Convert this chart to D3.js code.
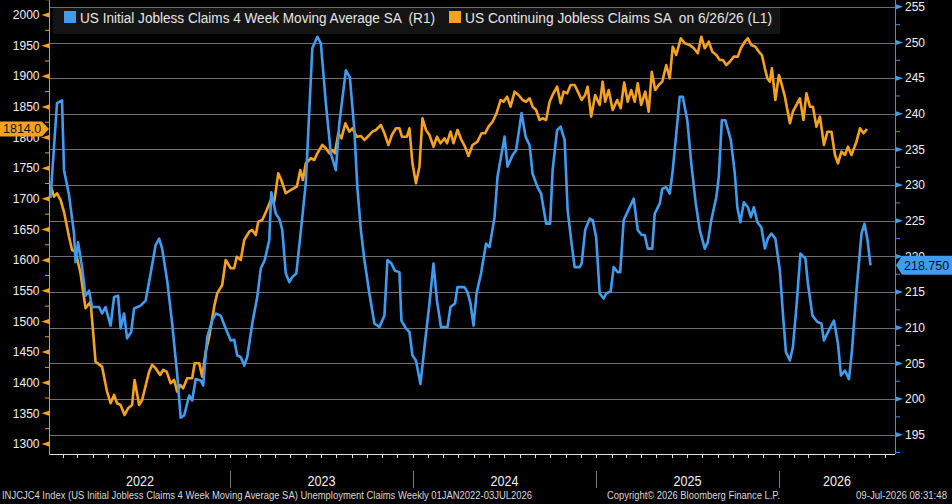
<!DOCTYPE html>
<html>
<head>
<meta charset="utf-8">
<script src="https://cdn.jsdelivr.net/npm/d3@7"></script>
<style>
  html, body { margin: 0; padding: 0; background: #000; }
  svg { display: block; font-family: "Liberation Sans", Arial, sans-serif; }
</style>
</head>
<body>
<div id="chart"></div>
<script>
// days counted from 2022-01-01
const initDays = [6,19,29,33,43,53,56,61,69,76, 83,89,103,109,116,126,133,141,146,153,
  159,167,173,186,196,206,216,223,229,239, 249,259,266,273,283,289,296,306,311,319,
  329,336,346,356,366,373,379,386,393,399, 409,419,426,434,443,447,456,463,469,476,
  483,489,497,509,516,529,539,546,556,566, 576,583,596,604,613,619,626,633,643,653,
  663,673,679,687,694,703,707,716,723,729, 736,745,753,763,771,778,786,799,805,814,
  819,833,839,845,851,857,866,876,883,893, 899,913,919,929,936,947,955,963,969,979,
  986,996,1004,1009,1018,1025,1033,1039,1046,1053, 1063,1067,1074,1083,1089,1096,1103,1111,1116,1125,
  1131,1139,1144,1151,1163,1171,1179,1187,1193,1199, 1208,1213,1223,1228,1236,1243,1249,1256,1263,1269,
  1278,1286,1295,1303,1313,1319,1326,1336,1341,1347, 1354,1365,1373,1378,1384,1391,1399,1405,1411,1418,
  1426,1433,1439,1446,1454,1463,1469,1475,1483,1489, 1496,1504,1514,1519,1528,1538,1546,1551,1559,1571,
  1579,1585,1593,1601,1607,1616,1626,1632,1638,1644];
const initValues = [228.2,241.5,241.9,232.1,228.6,223.2,219.2,222.0,218.5,214.5,
  215.2,212.9,212.9,212.0,212.9,210.3,214.3,214.5,209.9,212.0,
  208.5,209.4,212.7,213.1,213.8,217.6,221.6,222.5,221.1,216.6,
  210.6,203.5,197.4,197.7,200.5,199.8,202.8,202.6,201.9,208.7,
  211.0,212.0,211.7,209.9,208.2,208.3,206.1,205.9,204.7,205.9,
  210.6,214.3,218.3,219.5,222.3,229.0,226.0,225.3,223.7,217.6,
  216.4,217.1,217.6,225.5,230.3,249.2,250.8,249.9,241.5,234.4,
  232.1,238.7,246.1,245.1,237.7,229.6,223.7,219.5,214.8,210.6,
  210.1,211.7,219.5,219.0,218.0,217.8,211.0,209.9,209.4,206.1,
  205.4,202.1,207.3,213.4,219.0,213.8,210.1,210.1,212.9,213.4,
  215.7,215.7,215.0,213.4,210.3,214.8,217.6,221.8,221.3,225.5,
  231.2,236.8,232.6,234.2,234.9,240.1,236.8,235.6,231.6,229.7,
  228.8,224.6,224.6,232.1,237.7,238.2,236.3,226.5,222.3,218.5,
  218.5,219.0,223.7,225.3,225.1,222.7,214.8,214.1,214.8,215.1,
  218.5,217.8,217.8,225.1,226.9,228.1,223.7,223.0,223.0,221.1,
  221.1,226.0,227.4,229.5,229.7,228.8,232.1,237.2,242.4,242.4,
  239.1,233.0,227.4,223.7,221.1,222.0,225.1,228.3,231.2,239.1,
  239.1,236.3,231.6,226.9,224.8,227.6,226.9,225.5,226.9,224.8,
  224.1,221.1,222.5,223.2,222.5,218.0,212.0,206.6,205.4,207.3,
  212.9,220.4,219.7,216.2,211.7,210.8,210.6,208.2,209.4,211.0,
  207.8,203.3,204.0,202.8,206.8,215.2,223.2,224.6,222.3,218.75];

const contDays = [6,13,19,26,33,43,49,56,66,76, 86,96,109,119,126,133,139,146,154,161,
  169,174,183,189,203,209,216,225,231,238, 246,253,259,265,271,279,289,294,303,309,
  316,323,333,339,349,356,366,373,378,386, 393,403,409,416,421,429,438,446,453,461,
  467,476,486,498,505,510,516,526,533,539, 549,556,563,569,574,581,587,595,603,609,
  618,626,633,643,649,656,666,673,681,688, 696,703,708,718,723,729,736,743,749,756,
  763,771,778,785,793,798,805,811,819,827, 834,841,849,859,867,874,881,889,897,905,
  911,918,925,933,941,949,956,963,969,976, 983,989,996,1003,1009,1018,1025,1031,1038,1045,
  1053,1061,1067,1074,1079,1086,1094,1103,1109,1114, 1121,1129,1138,1145,1152,1159,1166,1173,1179,1186,
  1194,1201,1207,1214,1221,1228,1236,1243,1249,1256, 1265,1273,1283,1291,1299,1306,1313,1321,1328,1336,
  1343,1349,1356,1363,1371,1379,1385,1393,1399,1406, 1414,1421,1427,1433,1438,1443,1447,1454,1461,1466,
  1473,1483,1489,1496,1503,1510,1516,1523,1529,1536, 1543,1551,1558,1566,1573,1579,1586,1593,1599,1606,
  1616,1623,1630,1637];
const contValues = [1722.6,1703.5,1709.1,1698.2,1678.6,1638.3,1616.6,1613.8,1578.6,1521.5,
  1532.2,1434.3,1426.2,1385.4,1366.5,1380.0,1366.5,1363.7,1347.4,1358.3,
  1363.7,1404.5,1363.7,1371.8,1418.0,1428.9,1423.6,1412.6,1420.8,1418.0,
  1399.1,1404.5,1385.4,1396.3,1390.9,1407.2,1407.2,1431.7,1431.7,1409.9,
  1450.6,1475.1,1524.1,1545.9,1559.5,1600.3,1586.7,1586.7,1605.6,1600.3,
  1632.9,1646.4,1649.2,1641.0,1662.7,1665.5,1681.8,1698.2,1695.4,1741.7,
  1730.8,1709.1,1714.5,1719.9,1747.1,1730.8,1758.0,1766.2,1763.4,1774.4,
  1787.9,1782.5,1774.4,1779.7,1774.4,1807.0,1798.8,1823.3,1809.6,1815.1,
  1801.4,1802.6,1796.0,1804.2,1809.6,1812.4,1820.5,1807.0,1787.9,1804.2,
  1815.1,1815.1,1801.4,1801.4,1815.1,1758.0,1725.4,1752.5,1831.5,1812.4,
  1804.2,1785.1,1801.4,1790.7,1798.8,1790.7,1809.6,1790.7,1812.4,1796.0,
  1785.1,1770.0,1787.9,1793.3,1807.0,1807.0,1817.8,1825.9,1839.6,1861.3,
  1858.5,1866.7,1850.4,1874.9,1869.5,1861.3,1858.5,1864.1,1850.4,1845.0,
  1828.7,1831.5,1828.7,1858.5,1869.5,1883.0,1855.9,1874.9,1872.2,1885.8,
  1885.8,1872.2,1861.3,1869.5,1883.0,1834.1,1869.5,1853.2,1891.2,1858.5,
  1877.6,1845.0,1861.3,1847.8,1889.9,1858.5,1877.6,1858.5,1888.6,1853.2,
  1874.9,1842.2,1907.5,1877.6,1885.8,1891.2,1918.4,1896.7,1948.3,1934.7,
  1962.0,1953.8,1951.1,1945.7,1937.5,1964.6,1945.7,1956.4,1940.1,1934.7,
  1926.6,1926.6,1918.4,1923.8,1932.0,1932.0,1945.7,1956.4,1962.0,1951.1,
  1948.3,1940.1,1934.7,1913.0,1896.7,1891.2,1913.0,1861.3,1902.1,1888.6,
  1866.7,1823.3,1842.2,1853.2,1864.1,1828.7,1872.2,1850.4,1850.4,1817.8,
  1834.1,1787.9,1809.6,1809.6,1771.6,1758.0,1777.0,1771.6,1785.1,1771.6,
  1793.3,1815.1,1807.0,1814.0];

const leftTicks = d3.range(1300, 2001, 50);
const rightTicks = d3.range(195, 256, 5);
const years = [2022, 2023, 2024, 2025, 2026];
const legendItems = [
    { label: "US Initial Jobless Claims 4 Week Moving Average SA  (R1)", color: "#3f9cf0" },
    { label: "US Continuing Jobless Claims SA  on 6/26/26 (L1)", color: "#f6a21e" },
];
const footerLeft = "INJCJC4 Index (US Initial Jobless Claims 4 Week Moving Average SA) Unemployment Claims Weekly 01JAN2022-03JUL2026";
const footerMid = "Copyright\u00A9 2026 Bloomberg Finance L.P.";
const footerRight = "09-Jul-2026 08:31:48";

const width = 952, height = 504;
const plot = { left: 50, right: 895, top: 0, bottom: 454 };
const blue = legendItems[0].color, orange = legendItems[1].color;
const start = new Date(2022, 0, 1);

const initData = initDays.map((d, i) => ({ date: d3.timeDay.offset(start, d), value: initValues[i] }));
const contData = contDays.map((d, i) => ({ date: d3.timeDay.offset(start, d), value: contValues[i] }));

const x = d3.scaleTime()
    .domain([start, new Date(2026, 6, 3)])
    .range([47.5, 870.5]);
const yL = d3.scaleLinear().domain([1300, 2000]).range([444, 15]);
const yR = d3.scaleLinear().domain([195, 250]).range([434.7, 42.5]);

const svg = d3.select("#chart").append("svg")
    .attr("width", width)
    .attr("height", height);

svg.append("rect").attr("width", width).attr("height", height).attr("fill", "#000");

// horizontal grid follows right axis
svg.append("g")
    .selectAll("line")
    .data(rightTicks)
    .join("line")
    .attr("x1", plot.left).attr("x2", plot.right)
    .attr("y1", d => Math.round(yR(d)) + 0.5)
    .attr("y2", d => Math.round(yR(d)) + 0.5)
    .attr("stroke", "#707070")
    .attr("stroke-width", 1);

svg.append("clipPath").attr("id", "clip")
    .append("rect")
    .attr("x", plot.left).attr("y", plot.top)
    .attr("width", plot.right - plot.left).attr("height", plot.bottom - plot.top);

const lineL = d3.line().x(d => x(d.date)).y(d => yL(d.value));
const lineR = d3.line().x(d => x(d.date)).y(d => yR(d.value));

const lines = svg.append("g").attr("clip-path", "url(#clip)");
lines.append("path")
    .datum(contData)
    .attr("d", lineL)
    .attr("fill", "none")
    .attr("stroke", orange)
    .attr("stroke-width", 2.6)
    .attr("stroke-linejoin", "round");
lines.append("path")
    .datum(initData)
    .attr("d", lineR)
    .attr("fill", "none")
    .attr("stroke", blue)
    .attr("stroke-width", 2.6)
    .attr("stroke-linejoin", "round");

// legend box
const legend = svg.append("g");
legend.append("rect")
    .attr("x", 53).attr("y", 8).attr("width", 727).attr("height", 26)
    .attr("fill", "#141414");
const legendPos = [{ sq: 64, tx: 80, len: 355 }, { sq: 449, tx: 465, len: 307 }];
legendItems.forEach((item, i) => {
    legend.append("rect")
        .attr("x", legendPos[i].sq).attr("y", 11)
        .attr("width", 12).attr("height", 12)
        .attr("fill", item.color);
    legend.append("text")
        .attr("x", legendPos[i].tx).attr("y", 22.5)
        .attr("fill", "#e6e6e6")
        .attr("font-size", 14)
        .attr("textLength", legendPos[i].len)
        .attr("lengthAdjust", "spacingAndGlyphs")
        .style("white-space", "pre")
        .text(item.label);
});

// left axis (L1)
const gL = svg.append("g");
gL.append("line")
    .attr("x1", 49.5).attr("x2", 49.5).attr("y1", 0).attr("y2", plot.bottom)
    .attr("stroke", "#e8962a").attr("stroke-width", 1);
gL.selectAll(".minor")
    .data(d3.range(1300, 2026, 25).filter(v => v % 50 != 0))
    .join("line")
    .attr("x1", 45).attr("x2", 49)
    .attr("y1", d => yL(d)).attr("y2", d => yL(d))
    .attr("stroke", "#e8962a");
gL.selectAll(".tri")
    .data(leftTicks)
    .join("path")
    .attr("d", d => `M49,${yL(d) - 2.5}L49,${yL(d) + 2.5}L41.5,${yL(d)}Z`)
    .attr("fill", orange);
gL.selectAll("text")
    .data(leftTicks)
    .join("text")
    .attr("x", 39.5).attr("y", d => yL(d))
    .attr("dy", "0.35em")
    .attr("text-anchor", "end")
    .attr("fill", "#f0f0f0")
    .attr("font-size", 12)
    .text(d => d);

// right axis (R1)
const gR = svg.append("g");
gR.append("line")
    .attr("x1", 895.5).attr("x2", 895.5).attr("y1", 0).attr("y2", plot.bottom)
    .attr("stroke", "#4a8fd6").attr("stroke-width", 1);
gR.selectAll(".minor")
    .data(d3.range(192.5, 256, 5))
    .join("line")
    .attr("x1", 896).attr("x2", 900)
    .attr("y1", d => yR(d)).attr("y2", d => yR(d))
    .attr("stroke", "#4a8fd6");
gR.selectAll(".tri")
    .data(rightTicks)
    .join("path")
    .attr("d", d => `M896,${yR(d) - 2.5}L896,${yR(d) + 2.5}L903,${yR(d)}Z`)
    .attr("fill", blue);
gR.selectAll("text")
    .data(rightTicks)
    .join("text")
    .attr("x", 905).attr("y", d => yR(d))
    .attr("dy", "0.35em")
    .attr("fill", "#f0f0f0")
    .attr("font-size", 12)
    .text(d => d);

// last value tags (they sit over the 1800 / 220 labels, as in the original)
const lastCont = contData[contData.length - 1];
const lastInit = initData[initData.length - 1];
const yo = yL(lastCont.value), yb = yR(lastInit.value);
svg.append("path")
    .attr("d", `M0,${yo - 7.5}L42,${yo - 7.5}L49,${yo}L42,${yo + 7.5}L0,${yo + 7.5}Z`)
    .attr("fill", orange);
svg.append("text")
    .attr("x", 3).attr("y", yo).attr("dy", "0.36em")
    .attr("fill", "#1a1000").attr("font-size", 12.5)
    .text(d3.format(".1f")(lastCont.value));
svg.append("path")
    .attr("d", `M896,${yb}L902,${yb - 9.5}L952,${yb - 9.5}L952,${yb + 9.5}L902,${yb + 9.5}Z`)
    .attr("fill", blue);
svg.append("text")
    .attr("x", 904).attr("y", yb).attr("dy", "0.36em")
    .attr("fill", "#06121f").attr("font-size", 12.5)
    .text(d3.format(".3f")(lastInit.value));

// bottom axis
const gx = svg.append("g");
gx.append("line")
    .attr("x1", plot.left - 0.5).attr("x2", plot.right)
    .attr("y1", plot.bottom + 0.5).attr("y2", plot.bottom + 0.5)
    .attr("stroke", "#e0e0e0");
gx.selectAll(".tick")
    .data(d3.timeMonth.range(new Date(2022, 1, 1), new Date(2026, 9, 1))
        .filter(d => x(d) > plot.left + 2 && x(d) < plot.right - 2))
    .join("line")
    .attr("x1", d => Math.round(x(d)) + 0.5).attr("x2", d => Math.round(x(d)) + 0.5)
    .attr("y1", plot.bottom).attr("y2", plot.bottom + 4)
    .attr("stroke", "#e0e0e0");
gx.selectAll(".sep")
    .data(years.slice(1))
    .join("line")
    .attr("x1", d => Math.round(x(new Date(d, 0, 1))) + 0.5)
    .attr("x2", d => Math.round(x(new Date(d, 0, 1))) + 0.5)
    .attr("y1", 471).attr("y2", 488)
    .attr("stroke", "#7a7a7a");
gx.selectAll("text")
    .data(years)
    .join("text")
    .attr("x", d => {
        const a = Math.max(plot.left, x(new Date(d, 0, 1)));
        const b = Math.min(plot.right, x(new Date(d + 1, 0, 1)));
        return (a + b) / 2;
    })
    .attr("y", 486)
    .attr("text-anchor", "middle")
    .attr("fill", "#f0f0f0")
    .attr("font-size", 14)
    .attr("textLength", 28)
    .attr("lengthAdjust", "spacingAndGlyphs")
    .text(d => d);

// footer
const footer = [
    { text: footerLeft, x: 2, len: 530 },
    { text: footerMid, x: 607, len: 173 },
    { text: footerRight, x: 856, len: 91 },
];
svg.append("g")
    .selectAll("text")
    .data(footer)
    .join("text")
    .attr("x", d => d.x).attr("y", 499)
    .attr("fill", "#d8d8d8")
    .attr("font-size", 10)
    .attr("textLength", d => d.len)
    .attr("lengthAdjust", "spacingAndGlyphs")
    .text(d => d.text);
</script>
</body>
</html>
